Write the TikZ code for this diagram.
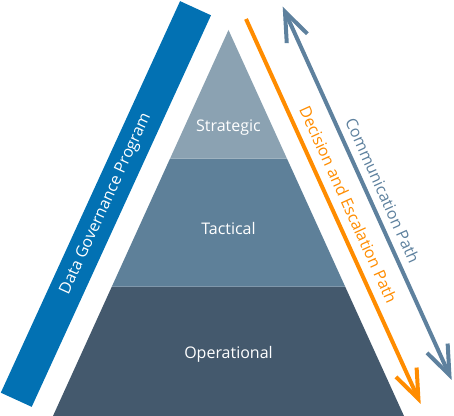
\documentclass[tikz,border=0pt]{standalone}
\usepackage{fontspec}
\setmainfont{Open Sans}
\usepackage{tikz}
\usetikzlibrary{calc,arrows.meta}

\definecolor{stratcol}{HTML}{8BA2B2}
\definecolor{tactcol}{HTML}{5E8099}
\definecolor{opercol}{HTML}{44596D}
\definecolor{barcol}{HTML}{0271B3}
\definecolor{esccol}{HTML}{FF8C00}
\definecolor{comcol}{HTML}{5E819E}

\begin{document}
\begin{tikzpicture}[x=0.75pt,y=0.75pt,
		barb/.tip={Straight Barb[length=22pt,width=17pt]},
		level/.style={font=\fontsize{12}{14}\selectfont,text=white,anchor=base},
		flow/.style={line width=3pt},
		pathlabel/.style={font=\fontsize{12}{14}\selectfont,midway,sloped}]
		\useasboundingbox (0,0) rectangle (454,416);

		% Corners of the pyramid
		\coordinate (apex) at (228.5,386);
		\coordinate (bl) at (53,0);
		\coordinate (br) at (404,0);
		\coordinate (ml) at ($(bl)!0.335!(apex)$);
		\coordinate (mr) at ($(br)!0.335!(apex)$);
		\coordinate (tl) at ($(bl)!0.667!(apex)$);
		\coordinate (tr) at ($(br)!0.667!(apex)$);

		% Layers
		\fill[opercol] (bl) -- (br) -- (mr) -- (ml) -- cycle;
		\fill[tactcol] (ml) -- (mr) -- (tr) -- (tl) -- cycle;
		\fill[stratcol] (tl) -- (tr) -- (apex) -- cycle;

		% Layer names
		\node[level] (strat) at (228.5,284.3) {Strategic};
		\node[level] (tact) at (228.5,181) {Tactical};
		\node[level] (oper) at (228.5,57.5) {Operational};

		% Program bar
		\node[fill=barcol,text=white,rotate=65.4,minimum width=323pt,minimum height=25.5pt,inner sep=0pt,
			font=\fontsize{12}{14}\selectfont] (dgp) at (105.9,212) {Data Governance Program};

		% Paths
		\coordinate (esctop) at (246,397);
		\coordinate (esctip) at (420.7,12);
		\draw[flow,esccol,-barb] (esctop) -- (esctip)
			node[pathlabel,above=3pt,text=esccol] (esc) {Decision and Escalation Path};

		\coordinate (comtop) at (282.7,409.3);
		\coordinate (combot) at (451.7,36);
		\draw[flow,comcol,barb-barb] (comtop) -- (combot)
			node[pathlabel,pos=0.51,above=2pt,text=comcol] (com) {Communication Path};
	\end{tikzpicture}
\end{document}
